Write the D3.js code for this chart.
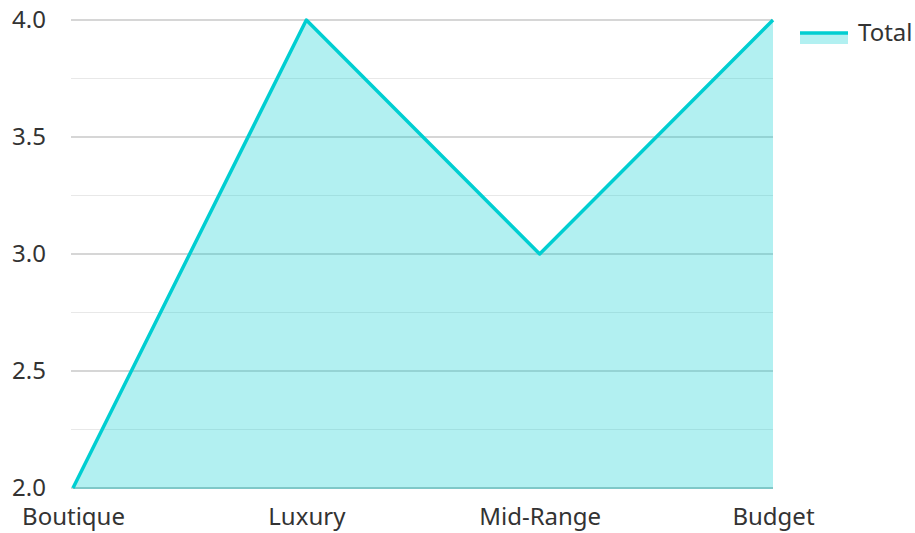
<!DOCTYPE html>
<html>
<head>
<meta charset="utf-8">
<script src="https://cdn.jsdelivr.net/npm/d3@7"></script>
<style>
  body { margin: 0; background: #fff; }
  text { font-family: "Noto Sans", sans-serif; fill: #333; }
</style>
</head>
<body>
<svg id="chart" width="915" height="533"></svg>
<script>
var categories = ["Boutique", "Luxury", "Mid-Range", "Budget"];
var totals = [2, 4, 3, 4];
var yTicks = [2.0, 2.5, 3.0, 3.5, 4.0];
var yMinorTicks = [2.25, 2.75, 3.25, 3.75];
var seriesName = "Total";

var margin = {top: 20, right: 142, bottom: 45, left: 73},
    width = 915 - margin.left - margin.right,
    height = 533 - margin.top - margin.bottom;

var svg = d3.select("#chart");
var main = svg.append("g")
  .attr("transform", "translate(" + margin.left + "," + margin.top + ")");

var x = d3.scalePoint().domain(categories).range([0, width]);
var y = d3.scaleLinear().domain([2, 4]).range([height, 0]);

// minor grid
main.selectAll(".minor").data(yMinorTicks).enter().append("line")
  .attr("x1", -2).attr("x2", width)
  .attr("y1", function(d) { return y(d); })
  .attr("y2", function(d) { return y(d); })
  .attr("stroke", "#e8e8e8").attr("stroke-width", 1);

// major grid
main.selectAll(".major").data(yTicks).enter().append("line")
  .attr("x1", -2).attr("x2", width)
  .attr("y1", function(d) { return y(d); })
  .attr("y2", function(d) { return y(d); })
  .attr("stroke", "#c8c8c8").attr("stroke-width", 1.5);

var data = categories.map(function(c, i) { return {c: c, v: totals[i]}; });

var area = d3.area()
  .x(function(d) { return x(d.c); })
  .y0(height)
  .y1(function(d) { return y(d.v); });

var line = d3.line()
  .x(function(d) { return x(d.c); })
  .y(function(d) { return y(d.v); });

main.append("path").datum(data)
  .attr("d", area)
  .attr("fill", "#00ced1").attr("fill-opacity", 0.3);

// bottom axis line
main.append("line")
  .attr("x1", 0).attr("x2", width)
  .attr("y1", height).attr("y2", height)
  .attr("stroke", "#7fc8c8").attr("stroke-width", 2);

main.append("path").datum(data)
  .attr("d", line)
  .attr("fill", "none")
  .attr("stroke", "#00ced1").attr("stroke-width", 3.5)
  .attr("stroke-linejoin", "round");

// y labels
var yAxis = d3.axisLeft(y).tickValues(yTicks).tickFormat(d3.format(".1f")).tickSize(0).tickPadding(27);
var yg = main.append("g").call(yAxis);
yg.select(".domain").remove();
yg.selectAll("text").attr("font-size", 24).attr("fill", "#333").attr("font-family", "Noto Sans");

// x labels
var xAxis = d3.axisBottom(x).tickSize(0).tickPadding(20);
var xg = main.append("g").attr("transform", "translate(0," + height + ")").call(xAxis);
xg.select(".domain").remove();
xg.selectAll("text").attr("font-size", 24).attr("fill", "#333").attr("font-family", "Noto Sans");

// legend
var legend = svg.append("g").attr("transform", "translate(800,32)");
legend.append("rect").attr("x", 0).attr("y", 0).attr("width", 48).attr("height", 12)
  .attr("fill", "#00ced1").attr("fill-opacity", 0.3);
legend.append("line").attr("x1", 0).attr("x2", 48).attr("y1", 1).attr("y2", 1)
  .attr("stroke", "#00ced1").attr("stroke-width", 3.5);
legend.append("text").attr("x", 58).attr("y", 1).attr("dy", "0.35em")
  .attr("font-size", 24).text(seriesName);
</script>
</body>
</html>
